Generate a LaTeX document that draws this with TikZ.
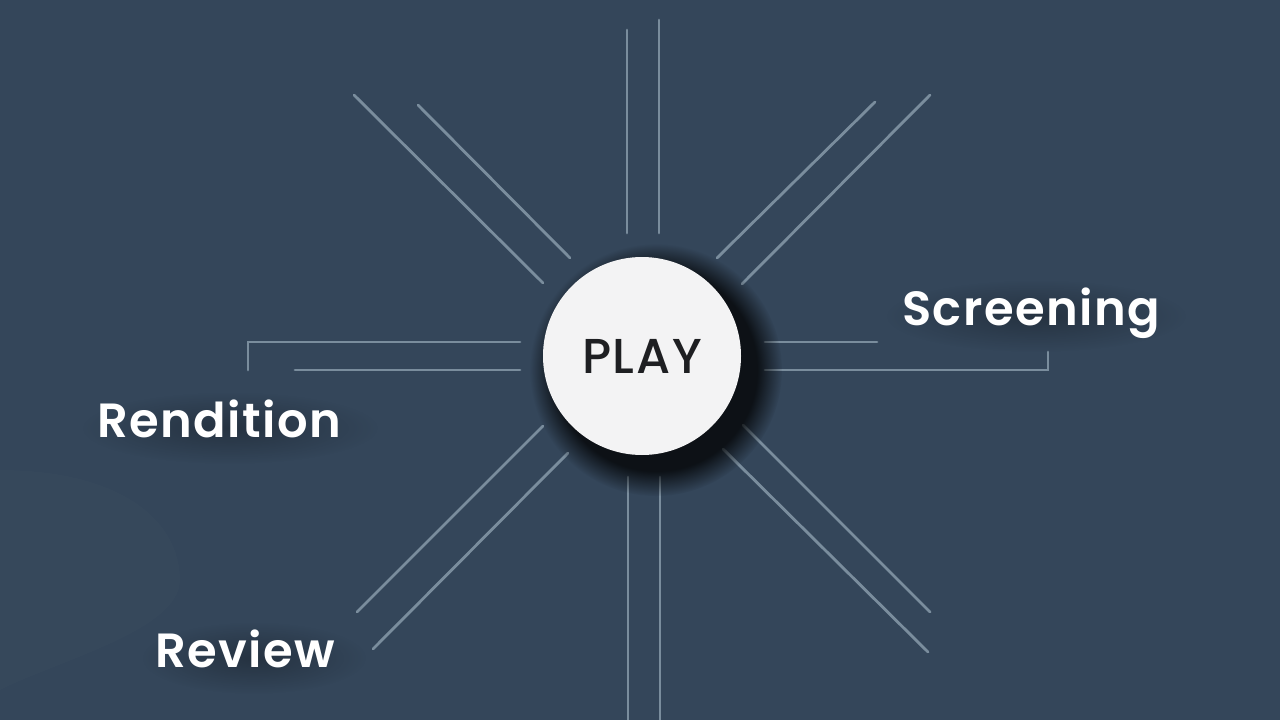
\documentclass[tikz,border=0pt]{standalone}
\usepackage{fontspec}
\setmainfont{Poppins}
\newfontfamily\semifont{Poppins}[UprightFont={* SemiBold}, LetterSpace=3]
\newfontfamily\playfont{Poppins}[UprightFont={* Medium}, LetterSpace=3.5]
\usetikzlibrary{fadings}
\tikzfading[name=softfade, inner color=transparent!20, outer color=transparent!100]
\definecolor{bg}{HTML}{34465A}
\definecolor{ln}{HTML}{7A8D9D}
\definecolor{disc}{HTML}{F3F3F4}
\definecolor{ink}{HTML}{1E1F22}
\begin{document}
\begin{tikzpicture}[x=1pt,y=-1pt,
  ray/.style={ln, line width=2.8pt, line cap=round},
  lbl/.style={text=white, font=\semifont\fontsize{48}{48}\selectfont, anchor=base west, inner sep=0pt},
  softshadow/.style={black, opacity=0.35, path fading=softfade}]
\fill[bg] (0,0) rectangle (1280,720);
\useasboundingbox (0,0) rectangle (1280,720);
\fill[white, opacity=0.012] (0,470) .. controls (120,470) and (180,520) .. (180,580) .. controls (180,630) and (60,660) .. (0,690) -- cycle;
% rays
\draw[ray] (354,95) -- (543,283);
\draw[ray] (418,105) -- (570,258);
\draw[ray] (875,102) -- (717,258);
\draw[ray] (930,95) -- (742,284);
\draw[ray] (543,426) -- (357,612);
\draw[ray] (568,453) -- (373,649);
\draw[ray] (743,425) -- (930,612);
\draw[ray] (723,449) -- (928,652);
\draw[ray] (627,30) -- (627,233);
\draw[ray] (659,20) -- (659,233);
\draw[ray] (628,477) -- (628,725);
\draw[ray] (660,477) -- (660,725);
\draw[ray] (248,370) -- (248,342) -- (520,342);
\draw[ray] (295,370) -- (520,370);
\draw[ray] (765,342) -- (877,342);
\draw[ray] (765,370) -- (1048,370) -- (1048,352);
% disc shadow
\fill[black, opacity=0.75, path fading=circle with fuzzy edge 20 percent] (656,370) circle (126);
\node[circle, fill=disc, minimum size=198pt, inner sep=0pt, text=ink, font=\playfont\fontsize{49}{49}\selectfont] (play) at (642,356) {PLAY};
% label shadows
\fill[softshadow] (1036,316) ellipse (150 and 36);
\fill[softshadow] (230,428) ellipse (148 and 36);
\fill[softshadow] (254,658) ellipse (112 and 36);
\node[lbl] (screening) at (902,325) {Screening};
\node[lbl] (rendition) at (97,437) {Rendition};
\node[lbl] (review) at (155,667) {Review};
\end{tikzpicture}
\end{document}
